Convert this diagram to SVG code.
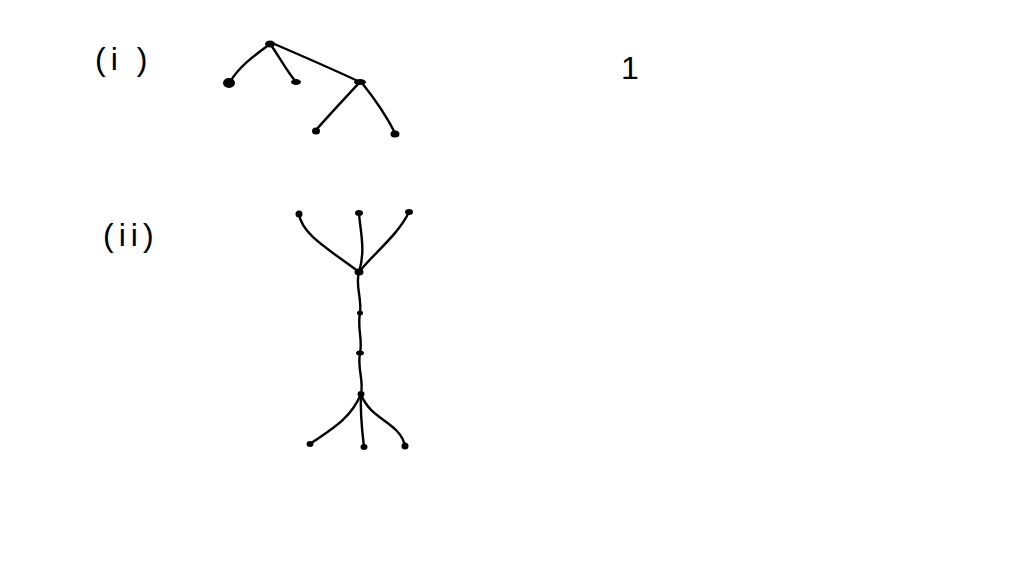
<svg xmlns="http://www.w3.org/2000/svg" width="1024" height="576" viewBox="0 0 1024 576">
<style>
.e{fill:none;stroke:#000;stroke-width:2.4;stroke-linecap:round;stroke-linejoin:round}
.n{fill:#000}
.t{font-family:"Liberation Sans",sans-serif;font-size:32px;fill:#000;letter-spacing:5px}
</style>
<rect width="1024" height="576" fill="#fff"/>
<text class="t" x="95" y="70">(i )</text>
<text class="t" x="103" y="246">(ii)</text>
<text class="t" x="621" y="79" font-size="17px" letter-spacing="0">1</text>
<g id="connectors">
<path class="e" d="M270,44 C258,53 240,65 230,82"/>
<path class="e" d="M271,45 C280,58 286,70 296,82"/>
<path class="e" d="M272,43 C300,55 330,68 360,82"/>
<path class="e" d="M359,83 C345,98 330,114 316,130"/>
<path class="e" d="M362,83 C374,98 386,115 395,133"/>
<path class="e" d="M299,214 C302,235 330,250 359,272"/>
<path class="e" d="M359,213 C360,230 366,250 359,272"/>
<path class="e" d="M409,212 C398,235 375,252 359,272"/>
<path class="e" d="M359,272 C355,285 362,298 360,313 C357,328 363,340 360,353 C357,368 364,380 361,394"/>
<path class="e" d="M361,394 C350,420 330,430 310,444"/>
<path class="e" d="M361,394 C360,415 362,430 364,447"/>
<path class="e" d="M361,394 C370,420 400,422 405,446"/>
</g>
<g id="tree1">
<g id="a1"><ellipse class="n" cx="270" cy="44" rx="5" ry="3.5"/></g>
<g id="a2"><ellipse class="n" cx="229" cy="83" rx="6" ry="5"/></g>
<g id="a3"><ellipse class="n" cx="296" cy="82" rx="5" ry="3"/></g>
<g id="a4"><ellipse class="n" cx="360" cy="82" rx="6" ry="3"/></g>
<g id="a5"><ellipse class="n" cx="316" cy="131" rx="4" ry="3.5"/></g>
<g id="a6"><ellipse class="n" cx="395" cy="134" rx="4.5" ry="3.5"/></g>
</g>
<g id="tree2">
<g id="b1"><ellipse class="n" cx="299" cy="214" rx="3.5" ry="3.5"/></g>
<g id="b2"><ellipse class="n" cx="359" cy="213" rx="4" ry="3"/></g>
<g id="b3"><ellipse class="n" cx="409" cy="212" rx="4" ry="3"/></g>
<g id="b4"><ellipse class="n" cx="359" cy="272" rx="4.5" ry="3.5"/></g>
<g id="b5"><ellipse class="n" cx="360" cy="313" rx="3" ry="2.5"/></g>
<g id="b6"><ellipse class="n" cx="360" cy="353" rx="4" ry="2.5"/></g>
<g id="b7"><ellipse class="n" cx="361" cy="394" rx="3.5" ry="3"/></g>
<g id="b8"><ellipse class="n" cx="310" cy="444" rx="3.5" ry="3"/></g>
<g id="b9"><ellipse class="n" cx="364" cy="447" rx="3.5" ry="3"/></g>
<g id="b10"><ellipse class="n" cx="405" cy="446" rx="3.5" ry="3.5"/></g>
</g>
</svg>
